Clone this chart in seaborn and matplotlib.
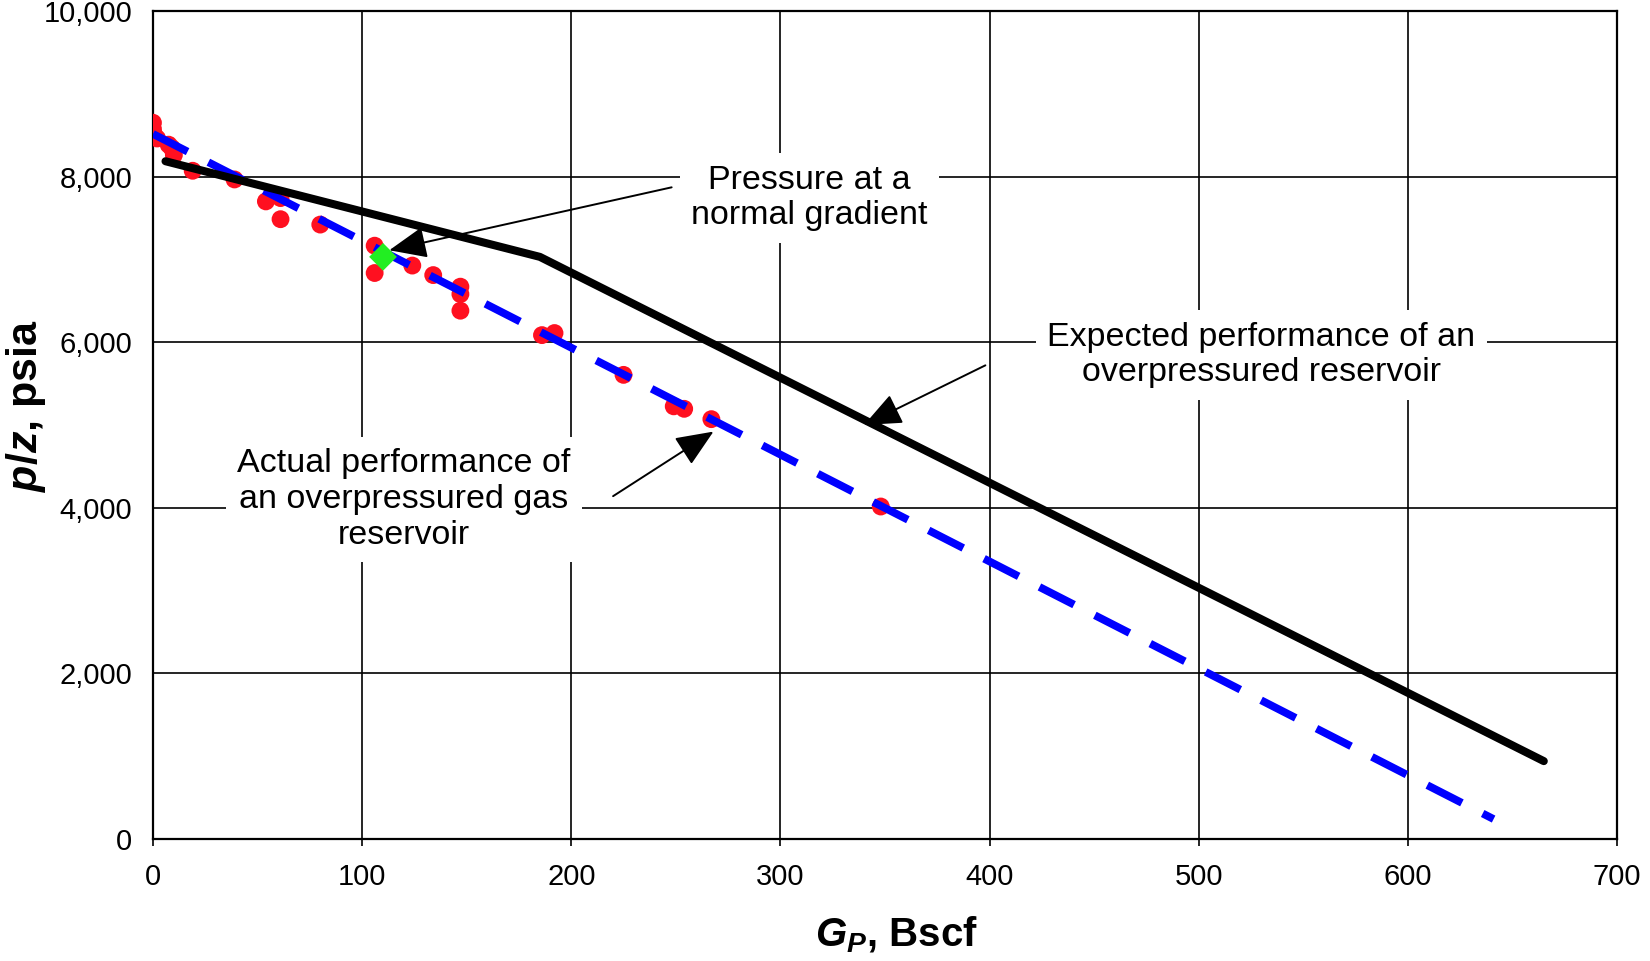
import pandas as pd
import matplotlib
matplotlib.use('Agg')
import matplotlib.pyplot as plt
import seaborn as sns

# measured p/z points (Gp in Bscf, p/z in psia)
gp_obs = [0, 0, 0.5, 2, 7.5, 9, 10, 19, 39, 54, 61, 61, 80, 106, 106, 124, 134,
          147, 147, 147, 186, 192, 225, 249, 254, 267, 348]
pz_obs = [8650, 8575, 8510, 8460, 8385, 8345, 8260, 8070, 7965, 7700, 7740, 7485,
          7420, 7165, 6835, 6925, 6810, 6670, 6580, 6380, 6085, 6110, 5605, 5225,
          5195, 5070, 4015]

# normal-gradient pressure point
gp_norm = [110]
pz_norm = [7030]

# actual trend (dashed blue)
gp_actual = [0, 641]
pz_actual = [8515, 240]

# expected overpressured performance (black)
gp_expected = [6, 185, 665]
pz_expected = [8185, 7030, 940]

sns.set_style('white')
plt.rcParams['font.family'] = ['Liberation Sans', 'DejaVu Sans']
plt.rcParams['text.color'] = 'black'
plt.rcParams['axes.labelcolor'] = 'black'
plt.rcParams['xtick.color'] = 'black'
plt.rcParams['ytick.color'] = 'black'
plt.rcParams['mathtext.fontset'] = 'custom'
plt.rcParams['mathtext.it'] = 'Liberation Sans:italic:bold'
plt.rcParams['mathtext.rm'] = 'Liberation Sans:bold'
plt.rcParams['mathtext.bf'] = 'Liberation Sans:bold'

fig = plt.figure(figsize=(16.5, 9.61), dpi=100)
ax = fig.add_axes([0.0927, 0.127, 0.8873, 0.8616])

ax.set_xlim(0, 700)
ax.set_ylim(0, 10000)
ax.set_xticks(range(0, 701, 100))
ax.set_yticks(range(0, 10001, 2000))
ax.grid(True, color='black', lw=1.2, zorder=0)
ax.set_axisbelow(True)
for s in ax.spines.values():
    s.set_color('black')
    s.set_linewidth(1.6)

sns.scatterplot(x=gp_obs, y=pz_obs, color='#ff1020', s=165, edgecolor='none',
                zorder=3, ax=ax)
sns.lineplot(x=gp_actual, y=pz_actual, color='#0000ff', lw=5.6,
             linestyle=(0, (5, 3)), zorder=4, ax=ax)
sns.lineplot(x=gp_expected, y=pz_expected, color='black', lw=5.8, zorder=4,
             sort=False, ax=ax)
sns.scatterplot(x=gp_norm, y=pz_norm, color='#22ee22', marker='D', s=200,
                edgecolor='none', zorder=5, ax=ax)

ax.yaxis.set_major_formatter(
    matplotlib.ticker.FuncFormatter(lambda x, p: format(int(x), ',')))
ax.tick_params(axis='both', labelsize=21, color='black', width=1.2)
ax.tick_params(axis='x', bottom=True, length=5, pad=12)
ax.tick_params(axis='y', left=False, length=0, pad=15)

ax.set_xlabel(r'$G_P$, Bscf', fontsize=29, fontweight='bold')
ax.set_ylabel(r'$p$/$z$, psia', fontsize=31, fontweight='bold')
ax.xaxis.set_label_coords(0.508, -0.092)
ax.yaxis.set_label_coords(-0.072, 0.523)

box = dict(facecolor='white', edgecolor='none', pad=8)
arrow = dict(arrowstyle='-|>,head_length=1.3,head_width=0.55', color='black',
             lw=1.4, mutation_scale=18, shrinkA=0, shrinkB=0)

ax.text(314, 7740, 'Pressure at a\nnormal gradient', fontsize=24.5, ha='center',
        va='center', bbox=box, zorder=6)
ax.annotate('', xy=(113, 7110), xytext=(248, 7870), arrowprops=arrow, zorder=7)

ax.text(530, 5845, 'Expected performance of an\noverpressured reservoir',
        fontsize=24.5, ha='center', va='center', bbox=box, zorder=6)
ax.annotate('', xy=(340, 5000), xytext=(398, 5720), arrowprops=arrow, zorder=7)

ax.text(120, 4100, 'Actual performance of\nan overpressured gas\nreservoir',
        fontsize=24.5, ha='center', va='center', bbox=box, zorder=6)
ax.annotate('', xy=(268, 4920), xytext=(220, 4140), arrowprops=arrow, zorder=7)

if ax.get_legend() is not None:
    ax.get_legend().remove()

plt.savefig('out.png', dpi=100)
